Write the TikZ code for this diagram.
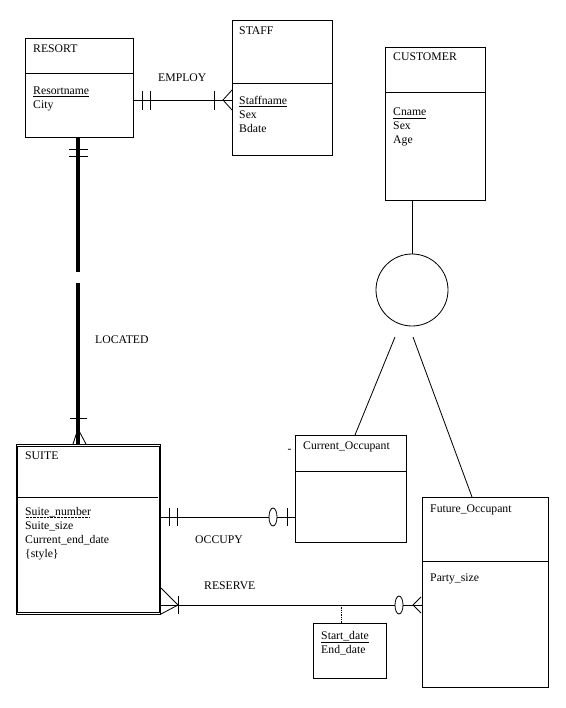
\documentclass[tikz,border=0pt]{standalone}
\usepackage{fontspec}
\setmainfont{Liberation Serif}

\newcommand{\dotul}[1]{\setbox0=\hbox{#1}\leavevmode\rlap{\copy0}\raisebox{-2.2pt}{\hbox to \wd0{\leaders\hbox to 1.2pt{\hss\rule{0.55pt}{0.55pt}\hss}\hfill}}}

\tikzset{
    entbox/.style={draw, line width=0.7pt, anchor=north west, inner sep=0pt},
    txt/.style={anchor=north west, inner sep=0pt, align=left, font=\fontsize{10}{11.9}\selectfont},
    conn/.style={line width=0.7pt},
    located/.style={line width=3.4pt},
}

\begin{document}
\begin{tikzpicture}[x=0.03cm, y=-0.03cm]%% start picture
    \useasboundingbox (0,0) rectangle (565,708);


        \node[entbox, minimum width=108*0.03cm, minimum height=99*0.03cm] (resort) at (25,38) {};
            \draw[conn] (resort.west |- 0,73) to (resort.east |- 0,73);
            \node[txt] (resortlbl) at (33,45) {RESORT};
            \node[txt] (resortatt) at (33,87) {\underline{Resortname}\\City};


        \node[entbox, minimum width=100*0.03cm, minimum height=135*0.03cm] (staff) at (232,20) {};
            \draw[conn] (staff.west |- 0,83) to (staff.east |- 0,83);
            \node[txt] (stafflbl) at (239,27) {STAFF};
            \node[txt] (staffatt) at (239,96) {\underline{Staffname}\\Sex\\Bdate};


        \node[entbox, minimum width=100*0.03cm, minimum height=153*0.03cm] (customer) at (385,47) {};
            \draw[conn] (customer.west |- 0,92) to (customer.east |- 0,92);
            \node[txt] (customerlbl) at (393,53) {CUSTOMER};
            \node[txt] (customeratt) at (393,108) {\underline{Cname}\\Sex\\Age};


        \node[entbox, minimum width=144.6*0.03cm, minimum height=169.5*0.03cm] (suite) at (15.7,444) {};
            \draw[conn] ([shift={(1.7pt,-1.7pt)}]suite.north west) rectangle ([shift={(-1.7pt,1.7pt)}]suite.south east);
            \draw[conn] (17.7,497) to (158.3,497);
            \node[txt] (suitelbl) at (25,452) {SUITE};
            \node[txt] (suiteatt) at (25,507) {\dotul{Suite\_number}\\Suite\_size\\Current\_end\_date\\\{style\}};


        \node[entbox, minimum width=111*0.03cm, minimum height=107*0.03cm] (curocc) at (295,435) {};
            \draw[conn] (curocc.west |- 0,471) to (curocc.east |- 0,471);
            \node[txt] (curocclbl) at (303,442) {Current\_Occupant};
            \node[inner sep=0pt, font=\fontsize{10}{12}\selectfont] (dash) at (289.5,451) {-};


        \node[entbox, minimum width=126*0.03cm, minimum height=190*0.03cm] (futocc) at (422,497) {};
            \draw[conn] (futocc.west |- 0,561) to (futocc.east |- 0,561);
            \node[txt] (futocclbl) at (430,505) {Future\_Occupant};
            \node[txt] (futoccatt) at (430,574) {Party\_size};


        \node[entbox, minimum width=73*0.03cm, minimum height=55*0.03cm] (dates) at (313,623) {};
            \node[txt] (datesatt) at (321,631) {\underline{Start\_date}\\End\_date};


        \node[draw, conn, circle, inner sep=0pt, minimum size=72*0.03cm] (isa) at (412,290) {};
            \draw[conn] (customer.south -| isa.north) to (isa.north);
            \coordinate (isaleft) at (395,337);
            \coordinate (isaright) at (413,337);
            \draw[conn] (isaleft) to (curocc.north -| 355,0);
            \draw[conn] (isaright) to (futocc.north -| 472,0);


        %% EMPLOY
        \draw[conn] (resort.east |- 0,100) to (staff.west |- 0,100);
            \draw[conn] (142,91) to (142,110);
            \draw[conn] (150,91) to (150,110);
            \draw[conn] (214,91) to (214,110);
            \draw[conn] (232,90) to (223,100) to (232,110);
        \node[txt] (employ) at (158,74) {EMPLOY};


        %% LOCATED
        \draw[located] (resort.south -| 78,0) to (78,272);
        \draw[located] (78,283) to (suite.north -| 78,0);
            \draw[conn] (69,149) to (88,149);
            \draw[conn] (69,156) to (88,156);
            \draw[conn] (70,418) to (87,418);
            \draw[conn] (73,444) to (78,429) to (86,444);
        \node[txt] (located) at (95,336) {LOCATED};


        %% OCCUPY
        \draw[conn] (suite.east |- 0,517) to (curocc.west |- 0,517);
            \draw[conn] (169,508) to (169,526);
            \draw[conn] (177,508) to (177,526);
            \draw[conn, fill=white] (273,517) ellipse [x radius=4, y radius=9];
            \draw[conn] (287,508) to (287,526);
        \node[txt] (occupy) at (195,536) {OCCUPY};


        %% RESERVE
        \draw[conn] (suite.east |- 0,605) to (futocc.west |- 0,605);
            \draw[conn] (161,588) to (178,605) to (161,614);
            \draw[conn] (178,596) to (178,614);
            \draw[conn, fill=white] (399,605) ellipse [x radius=4, y radius=9];
            \draw[conn] (421,597) to (413,605) to (421,613);
            \draw[line width=0.5pt, dash pattern=on 1pt off 1pt] (341,605) to (dates.north -| 341,0);
        \node[txt] (reserve) at (204,582) {RESERVE};


\end{tikzpicture}
\end{document}
